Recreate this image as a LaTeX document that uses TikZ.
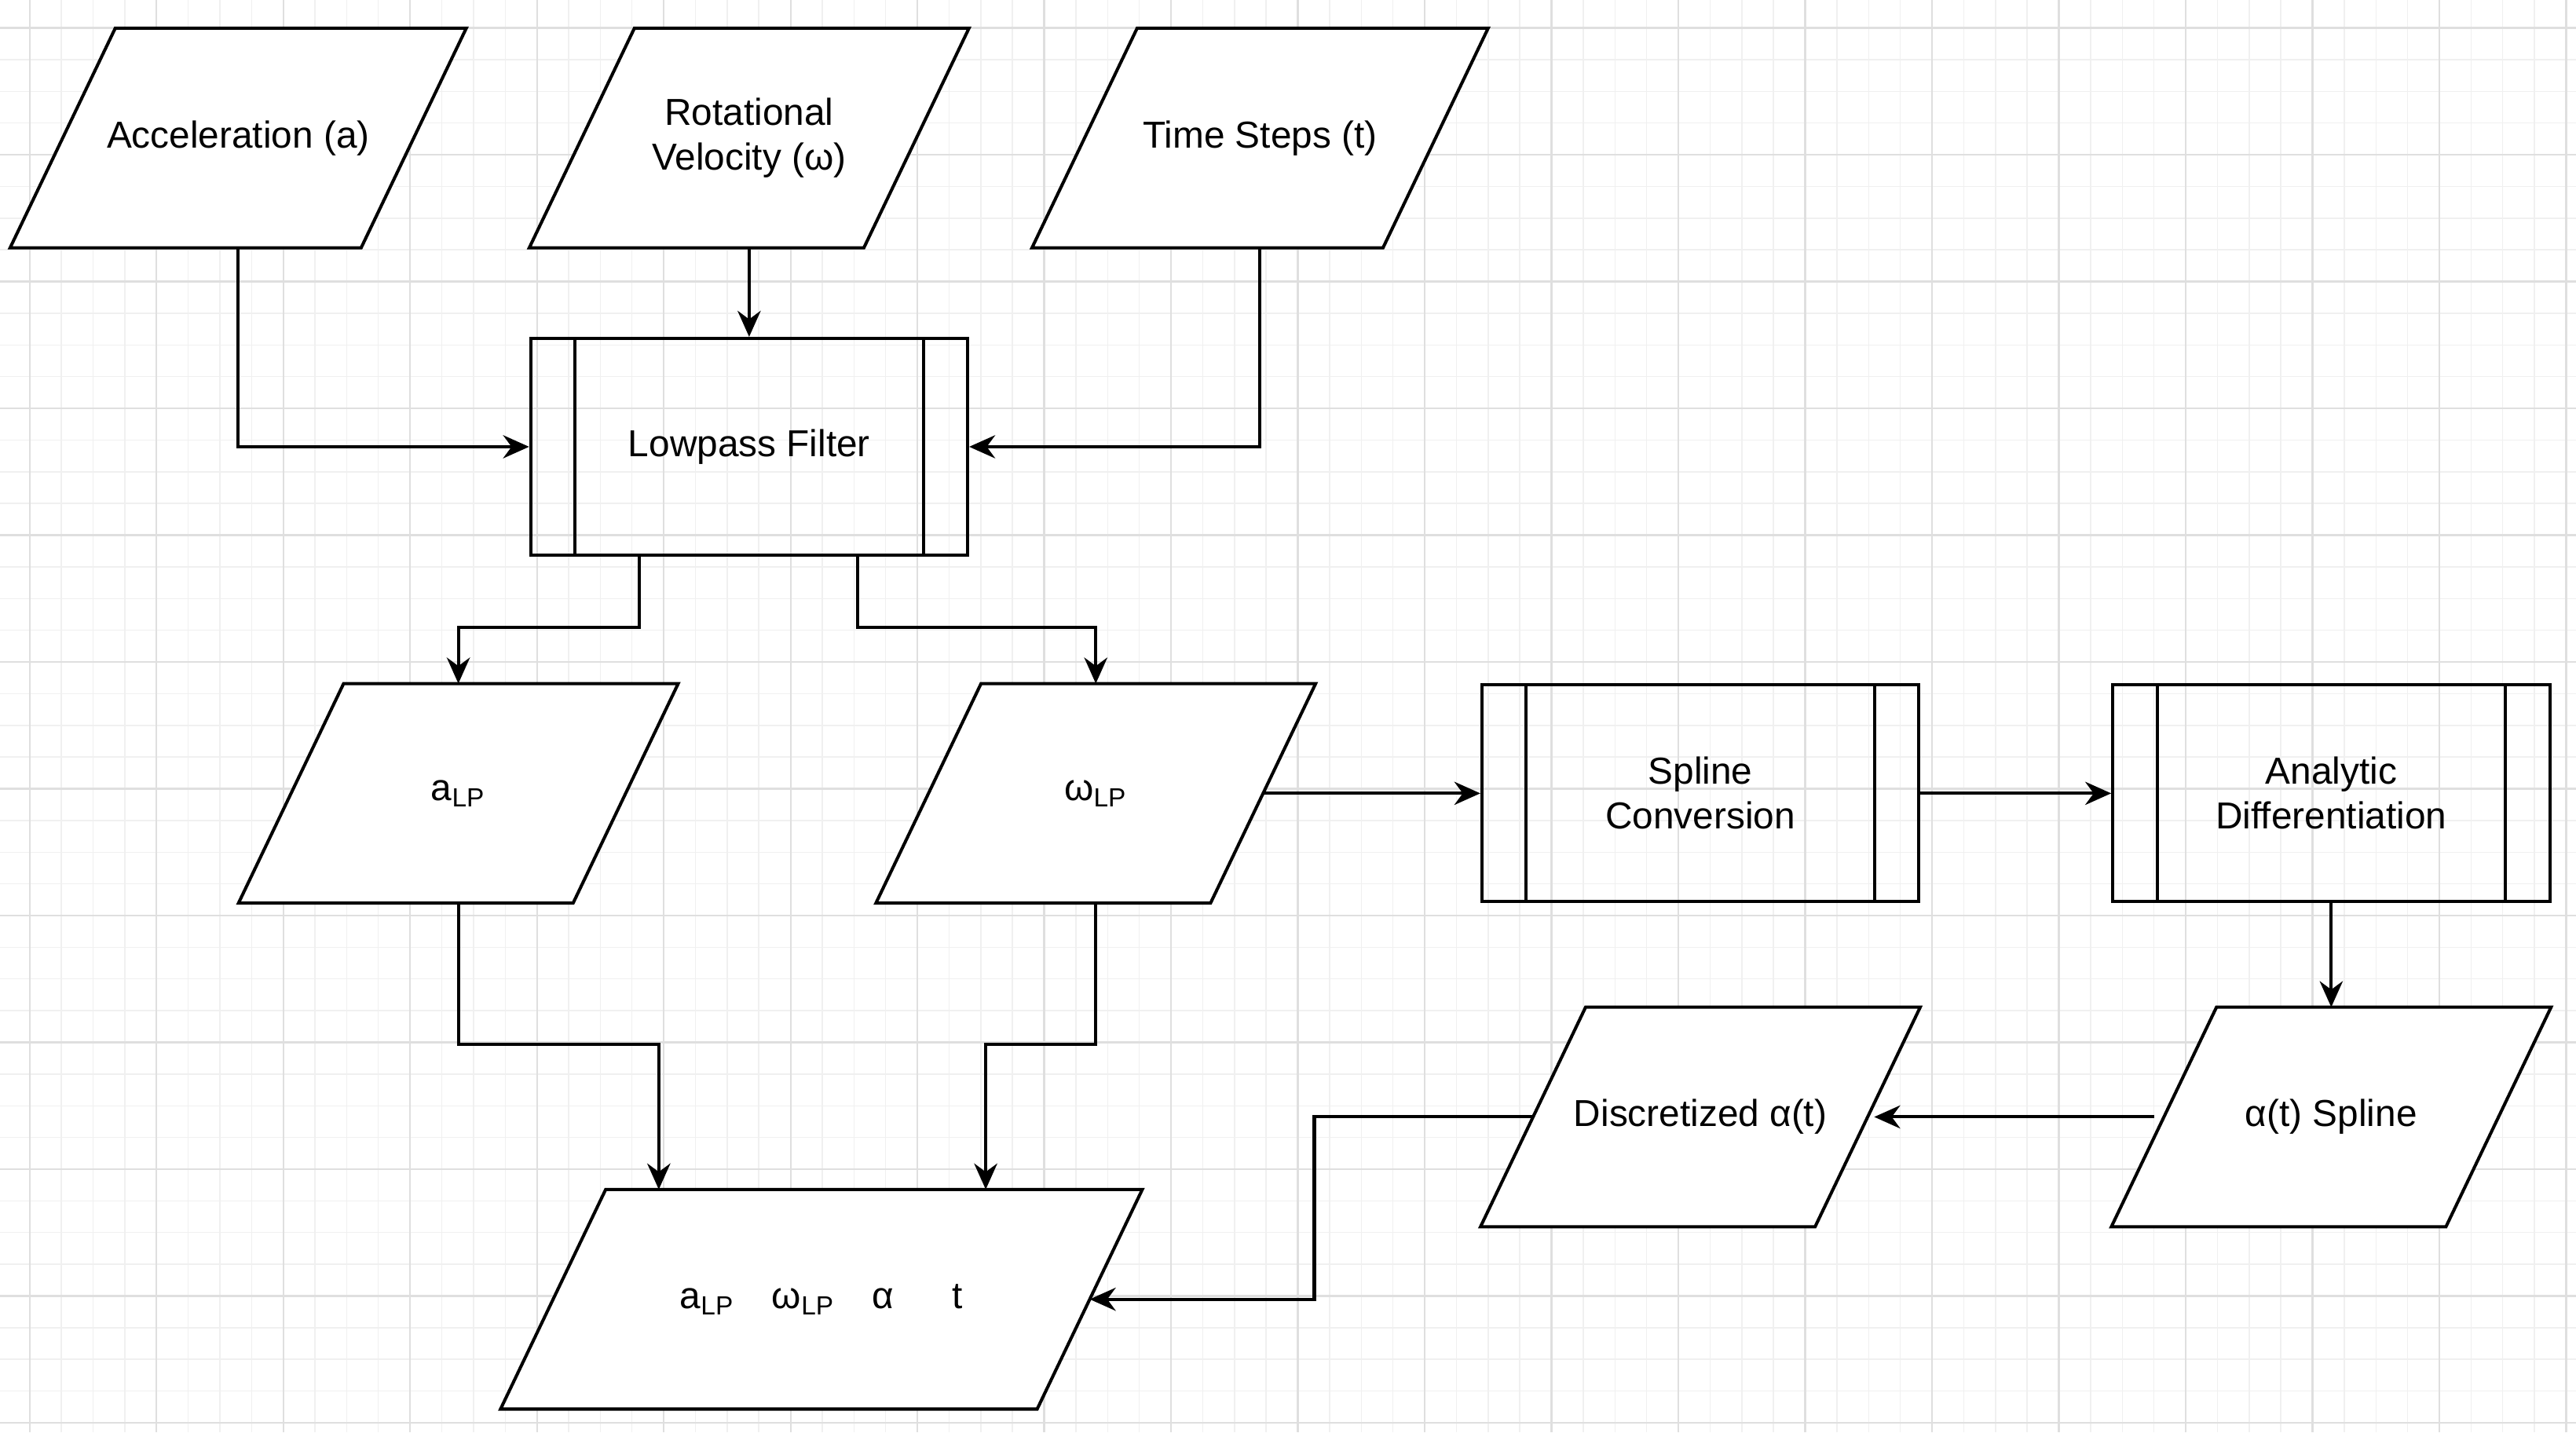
\documentclass[tikz,border=0pt]{standalone}
\usepackage{fontspec}
\setmainfont{Liberation Sans}
\usetikzlibrary{calc,arrows.meta}
\begin{document}
\begin{tikzpicture}[x=0.02cm,y=-0.02cm,
  every node/.style={font=\fontsize{13}{15.5}\selectfont, align=center},
  para/.style={minimum width=#1, minimum height=2.66cm, inner sep=0pt},
  proc/.style={draw, line width=1.1pt, minimum width=5.32cm, minimum height=2.64cm, inner sep=0pt,
    path picture={\draw[line width=1.1pt] ([xshift=0.54cm]path picture bounding box.north west) -- ([xshift=0.54cm]path picture bounding box.south west);
      \draw[line width=1.1pt] ([xshift=-0.54cm]path picture bounding box.north east) -- ([xshift=-0.54cm]path picture bounding box.south east);}},
  ln/.style={line width=1.1pt},
  arr/.style={line width=1.1pt, -{Stealth[length=9pt,width=8pt]}},
  mg/.style={gray!12, line width=0.4pt},
  Mg/.style={gray!25, line width=0.6pt}]
\useasboundingbox (0,0) rectangle (1568,872);
\fill[white] (0,0) rectangle (1568,872);
% grid
\foreach \i in {0,...,81}{\draw[mg] ({-1.3+\i*19.3},0) -- ({-1.3+\i*19.3},872);}
\foreach \i in {0,...,45}{\draw[mg] (0,{-2.3+\i*19.3}) -- (1568,{-2.3+\i*19.3});}
\foreach \i in {0,...,20}{\draw[Mg] ({18+\i*77.2},0) -- ({18+\i*77.2},872);}
\foreach \i in {0,...,11}{\draw[Mg] (0,{17+\i*77.2}) -- (1568,{17+\i*77.2});}
\newcommand{\paral}[5]{%
  \node[para=#4] (#1) at (#2,#3) {#5};
  \draw[ln,fill=white] ($(#1.north west)+(0.64cm,0)$) -- ($(#1.north east)+(0.64cm,0)$) -- ($(#1.south east)+(-0.64cm,0)$) -- ($(#1.south west)+(-0.64cm,0)$) -- cycle;
  \node at (#1) {#5};}
\paral{acc}{145}{84}{4.26cm}{Acceleration (a)}
\paral{rot}{456}{84}{4.06cm}{Rotational\\Velocity (ω)}
\paral{ts}{767}{84}{4.26cm}{Time Steps (t)}
\node[proc] (lp) at (456,272) {Lowpass Filter};
\paral{alp}{279}{483}{4.06cm}{a\textsubscript{LP}}
\paral{wlp}{667}{483}{4.06cm}{ω\textsubscript{LP}}
\node[proc] (sc) at (1035,483) {Spline\\Conversion};
\node[proc] (ad) at (1419,483) {Analytic\\Differentiation};
\paral{as}{1419}{680}{4.06cm}{α(t) Spline}
\paral{da}{1035}{680}{4.06cm}{Discretized α(t)}
\paral{out}{500}{791}{6.52cm}{a\textsubscript{LP}\quad ω\textsubscript{LP}\quad α\quad\ \ t}
% connectors
\draw[arr] (acc.south) |- (lp.west);
\draw[arr] (rot.south) -- (lp.north);
\draw[arr] (ts.south) |- (lp.east);
\coordinate (l1) at (389,382);
\coordinate (l2) at (522,382);
\draw[arr] (lp.south -| l1) -- (l1) -| (alp.north);
\draw[arr] (lp.south -| l2) -- (l2) -| (wlp.north);
\draw[arr] (wlp.east) -- (sc.west);
\draw[arr] (sc.east) -- (ad.west);
\draw[arr] (ad.south) -- (as.north);
\draw[arr] ($(as.west)+(-0.12cm,0)$) -- ($(da.east)+(0.08cm,0)$);
\coordinate (d1) at (800,680);
\draw[arr] ($(da.west)+(0,0)$) -- (d1) |- (out.east);
\coordinate (m1) at (401,636);
\coordinate (m2) at (600,636);
\draw[arr] (alp.south) |- (m1) -- (m1 |- out.north);
\draw[arr] (wlp.south) |- (m2) -- (m2 |- out.north);
\end{tikzpicture}
\end{document}
